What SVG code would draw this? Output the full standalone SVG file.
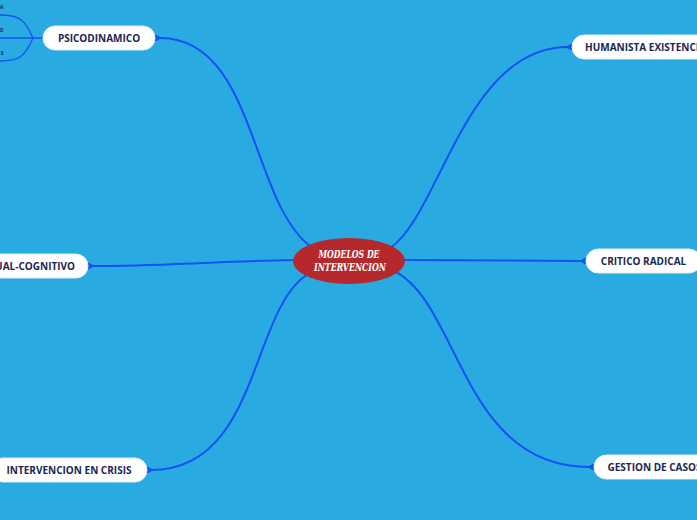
<svg xmlns="http://www.w3.org/2000/svg" width="697" height="520" viewBox="0 0 697 520">
<style>
.bg{fill:#29abe2}
.ln{fill:none;stroke:#1452f5;stroke-width:2}
.sub{fill:none;stroke:#1452f5;stroke-width:1.3}
.tri{fill:#1452f5}
.box{fill:#ffffff;stroke:#e6eef5;stroke-width:1}
.lbl{font-family:"Open Sans","DejaVu Sans",sans-serif;font-weight:bold;font-size:10px;fill:#1b2650}
.tiny{font-family:"Open Sans","DejaVu Sans",sans-serif;font-weight:bold;font-size:5px;fill:#1b2650}
.ctr{font-family:"DejaVu Serif","Liberation Serif",serif;font-weight:bold;font-style:italic;font-size:10.5px;fill:#ffffff}
</style>
<rect class="bg" x="0" y="0" width="697" height="520"/>
<g id="connectors">
<path class="ln" d="M310,246 C250,200 255,38 160,38"/>
<path class="ln" d="M390,248 C440,215 465,47 568,47"/>
<path class="ln" d="M404,260 L582,261"/>
<path class="ln" d="M392,270 C460,300 460,467 590,467"/>
<path class="ln" d="M308,274 C250,310 260,470 151,470"/>
<path class="ln" d="M295,260 C200,262 160,266 92,266"/>
<path class="sub" d="M43,38 L0,38"/>
<path class="sub" d="M33,38 C25,20 20,15 0,15"/>
<path class="sub" d="M33,38 C25,56 20,61 0,61"/>
<polygon class="tri" points="155,34.5 155,41.5 162,38"/>
<polygon class="tri" points="572,43.5 572,50.5 565,47"/>
<polygon class="tri" points="586,257.5 586,264.5 579,261"/>
<polygon class="tri" points="594,463.5 594,470.5 587,467"/>
<polygon class="tri" points="147,466.5 147,473.5 154,470"/>
<polygon class="tri" points="88,262.5 88,269.5 95,266"/>
</g>
<g id="center">
<ellipse cx="349" cy="261" rx="56" ry="23" fill="#b5282c"/>
<text class="ctr" x="349" y="258" text-anchor="middle" textLength="61" lengthAdjust="spacingAndGlyphs">MODELOS DE</text>
<text class="ctr" x="350" y="270.5" text-anchor="middle" textLength="72" lengthAdjust="spacingAndGlyphs">INTERVENCION</text>
</g>
<g id="psicodinamico">
<rect class="box" x="43" y="26" width="112" height="24" rx="12"/>
<text class="lbl" x="99" y="41.5" text-anchor="middle">PSICODINAMICO</text>
</g>
<g id="sub-a"><text class="tiny" x="3.5" y="9" text-anchor="end">A</text></g>
<g id="sub-o"><text class="tiny" x="3.5" y="32" text-anchor="end">O</text></g>
<g id="sub-s"><text class="tiny" x="3.5" y="55" text-anchor="end">S</text></g>
<g id="humanista">
<rect class="box" x="572" y="35" width="165" height="24" rx="12"/>
<text class="lbl" x="585" y="50.5">HUMANISTA EXISTENCIAL</text>
</g>
<g id="critico">
<rect class="box" x="586" y="249" width="115" height="24" rx="12"/>
<text class="lbl" x="643.5" y="264.5" text-anchor="middle">CRITICO RADICAL</text>
</g>
<g id="gestion">
<rect class="box" x="594" y="455" width="120" height="24" rx="12"/>
<text class="lbl" x="607.5" y="470.5">GESTION DE CASOS</text>
</g>
<g id="crisis">
<rect class="box" x="-9" y="458" width="156" height="24" rx="12"/>
<text class="lbl" x="69" y="473.5" text-anchor="middle">INTERVENCION EN CRISIS</text>
</g>
<g id="conductual">
<rect class="box" x="-75" y="254" width="163" height="24" rx="12"/>
<text class="lbl" x="75" y="269.5" text-anchor="end">CONDUCTUAL-COGNITIVO</text>
</g>
</svg>
